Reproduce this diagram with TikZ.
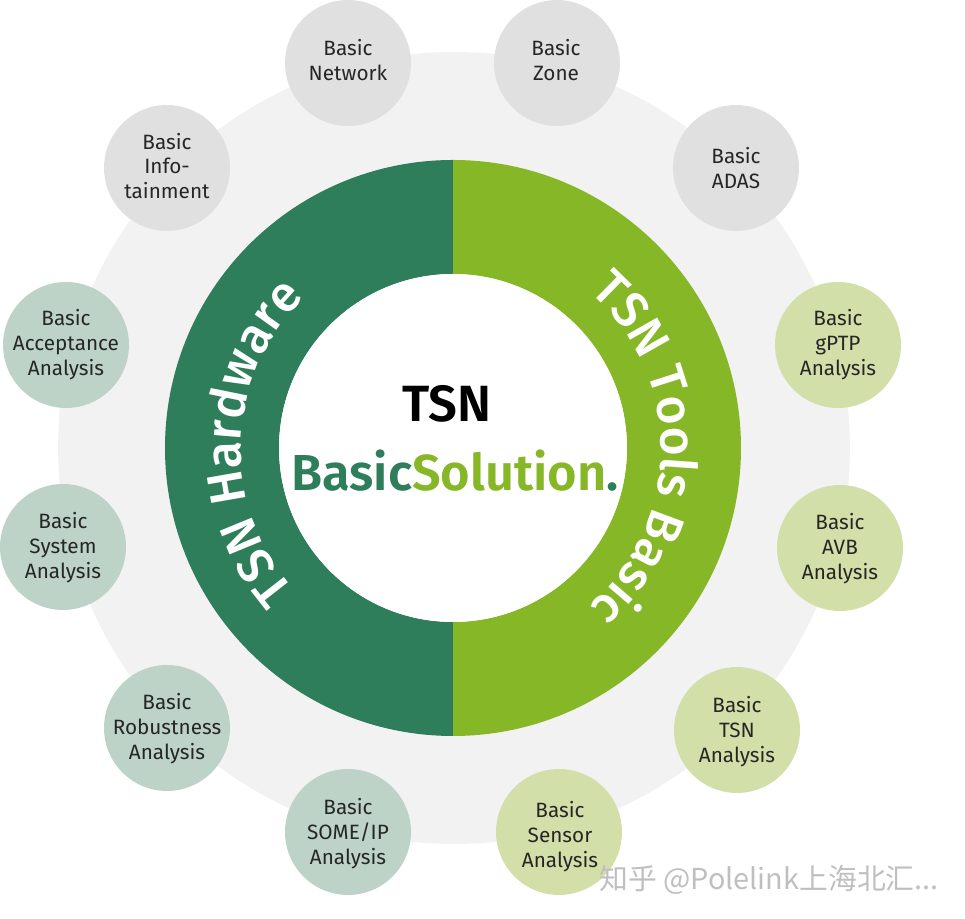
\documentclass[tikz,border=0pt]{standalone}
\usepackage{fontspec}
\setmainfont{Fira Sans}
\newfontfamily\ringfont{Fira Sans Medium}
\newfontfamily\logofont{Fira Sans SemiBold}
\newfontfamily\cjkfont{Noto Sans CJK SC}
\usetikzlibrary{decorations.text}
\definecolor{darkgreen}{HTML}{2E7D5B}
\definecolor{limegreen}{HTML}{86B726}
\definecolor{backgray}{HTML}{F2F2F2}
\definecolor{basegray}{HTML}{E0E0E0}
\definecolor{palegreen}{HTML}{BDD3C7}
\definecolor{palelime}{HTML}{D3DFA9}
\begin{document}
\begin{tikzpicture}[
        x=0.02cm, y=0.02cm,
        basic/.style={
            circle,
            inner sep=0pt,
            minimum size=2.52cm
        },
        basictext/.style={
            inner sep=0pt,
            font=\fontsize{11.8}{14.2}\selectfont,
            text=black!85,
            align=center
        },
        basegraynode/.style={basic, fill=basegray},
        palegreennode/.style={basic, fill=palegreen},
        palelimenode/.style={basic, fill=palelime},
        ringtext/.style={
            postaction={decorate},
            decoration={text along path, text align=center, text={#1}}
        }
    ]
        \useasboundingbox (0,0) rectangle (965,919);
        % background disc
        \fill[backgray] (454,471) circle (396);

        % ring, two halves
        \fill[darkgreen] (453,183) arc (-90:-270:288) -- (453,645) arc (90:270:174) -- cycle;
        \fill[limegreen] (453,183) arc (-90:90:288) -- (453,645) arc (90:-90:174) -- cycle;
        \fill[white] (453,471) circle (174);

        % ring labels
        \path[ringtext={|\ringfont\fontsize{28.5}{28.5}\selectfont\color{white}|TSN Hardware}]
            (453,470) ++(226:212) arc (226:130:212);
        \path[ringtext={|\ringfont\fontsize{28.5}{28.5}\selectfont\color{white}|TSN Tools Basic}]
            (453,470) ++(56:208) arc (56:-56:208);

        % centre
        \node[font=\logofont\fontsize{29}{29}\selectfont, text=black] (tsn) at (447,515) {TSN};
        \node[font=\logofont\fontsize{28.8}{28.8}\selectfont] (solution) at (455,448)
            {\textcolor{darkgreen}{Basic}\textcolor{limegreen}{Solution}\textcolor{darkgreen}{.}};

        % gray circles
        \node[basegraynode] (network) at (348,856) {};
        \node[basictext] (networktext) at (348,859) {Basic\\Network};
        \node[basegraynode] (zone) at (557,856) {};
        \node[basictext] (zonetext) at (556,859) {Basic\\Zone};
        \node[basegraynode] (adas) at (736,751) {};
        \node[basictext] (adastext) at (736,751) {Basic\\ADAS};
        \node[basegraynode] (info) at (167,751) {};
        \node[basictext] (infotext) at (167,753) {Basic\\Info-\\tainment};

        % right circles
        \node[palelimenode] (gptp) at (838,574) {};
        \node[basictext] (gptptext) at (838,574) {Basic\\gPTP\\Analysis};
        \node[palelimenode] (avb) at (840,371) {};
        \node[basictext] (avbtext) at (840,370) {Basic\\AVB\\Analysis};
        \node[palelimenode] (tsnan) at (737,189) {};
        \node[basictext] (tsnantext) at (737,187) {Basic\\TSN\\Analysis};
        \node[palelimenode] (sensor) at (559,87) {};
        \node[basictext] (sensortext) at (560,82) {Basic\\Sensor\\Analysis};

        % left circles
        \node[palegreennode] (someip) at (348,87) {};
        \node[basictext] (someiptext) at (348,85) {Basic\\SOME/IP\\Analysis};
        \node[palegreennode] (robust) at (167,191) {};
        \node[basictext] (robusttext) at (167,190) {Basic\\Robustness\\Analysis};
        \node[palegreennode] (system) at (63,372) {};
        \node[basictext] (systemtext) at (63,371) {Basic\\System\\Analysis};
        \node[palegreennode] (accept) at (66,574) {};
        \node[basictext] (accepttext) at (66,574) {Basic\\Acceptance\\Analysis};

        % watermark
        \node[font=\cjkfont\fontsize{16.4}{16.4}\selectfont, text=black!25, anchor=west, inner sep=0pt] (mark) at (599,39) {知乎 @Polelink上海北汇...};
    \end{tikzpicture}
\end{document}
